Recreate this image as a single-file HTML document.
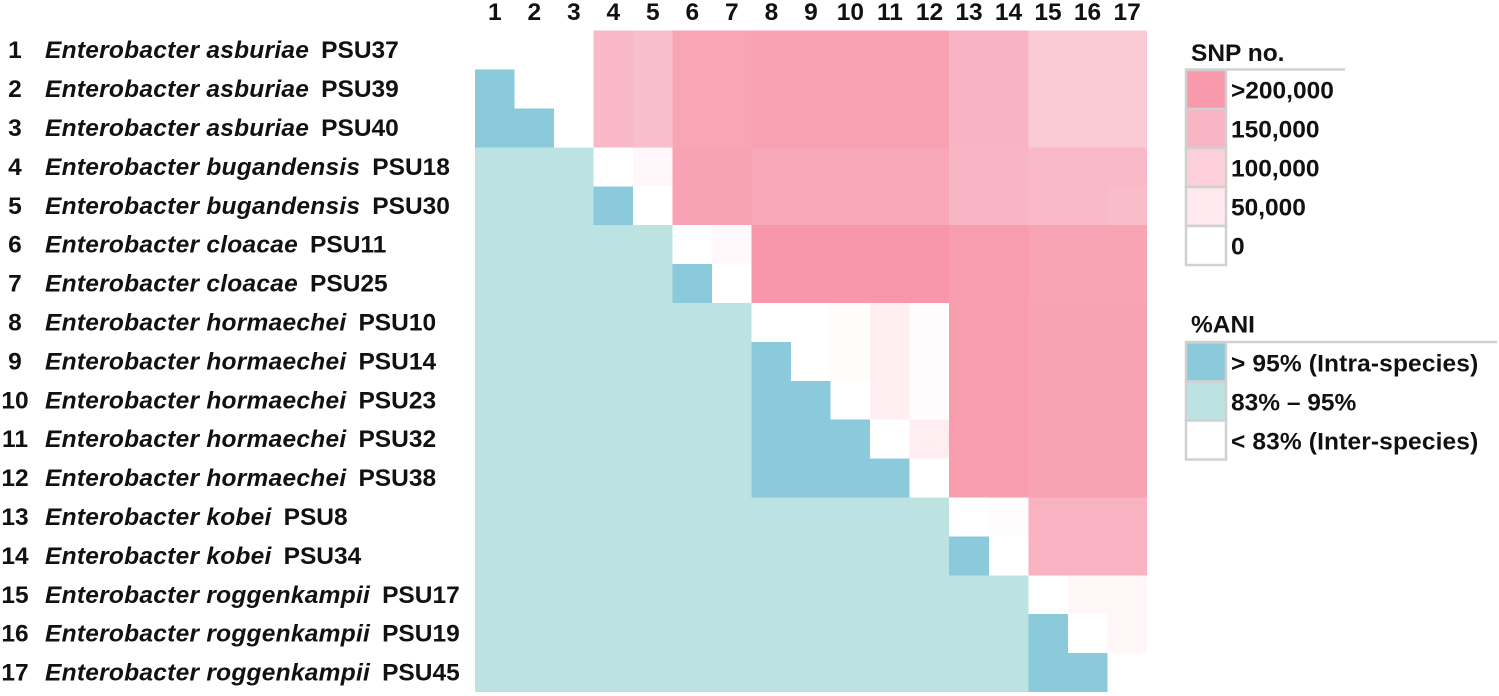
<!DOCTYPE html>
<html lang="en">
<head>
<meta charset="utf-8">
<title>SNP and ANI heatmap of Enterobacter strains</title>
<style>
  html, body { margin: 0; padding: 0; background: #fff; }
  svg { display: block; }
  text { font-family: "Liberation Sans", Arial, sans-serif; font-weight: 700; font-size: 24.5px; fill: #111; }
</style>
</head>
<body>
<svg id="chart" width="1499" height="696" viewBox="0 0 1499 696" xmlns="http://www.w3.org/2000/svg">
  <g id="cells" shape-rendering="crispEdges"></g>
  <g id="col-labels"></g>
  <g id="row-labels"></g>

  <g>
    <text x="1191" y="61">SNP no.</text>
    <line x1="1185" y1="69.5" x2="1345" y2="69.5" stroke="#d0d0d0" stroke-width="2.5"/>
    <rect x="1186" y="70" width="40" height="39" fill="#f89aab" stroke="#d0d0d0" stroke-width="2.5"/>
    <rect x="1186" y="109" width="40" height="39" fill="#fab5c5" stroke="#d0d0d0" stroke-width="2.5"/>
    <rect x="1186" y="148" width="40" height="39" fill="#fccfdb" stroke="#d0d0d0" stroke-width="2.5"/>
    <rect x="1186" y="187" width="40" height="39" fill="#ffe9ee" stroke="#d0d0d0" stroke-width="2.5"/>
    <rect x="1186" y="226" width="40" height="39" fill="#ffffff" stroke="#d0d0d0" stroke-width="2.5"/>
    <text x="1231" y="98.5">&gt;200,000</text>
    <text x="1231" y="137.5">150,000</text>
    <text x="1231" y="176.5">100,000</text>
    <text x="1231" y="215.5">50,000</text>
    <text x="1231" y="254.5">0</text>
  </g>

  <g>
    <text x="1191" y="332.5">%ANI</text>
    <line x1="1185" y1="342" x2="1497" y2="342" stroke="#d0d0d0" stroke-width="2.5"/>
    <rect x="1186" y="342.5" width="40" height="39" fill="#8bcadb" stroke="#d0d0d0" stroke-width="2.5"/>
    <rect x="1186" y="381.5" width="40" height="39" fill="#bde2e2" stroke="#d0d0d0" stroke-width="2.5"/>
    <rect x="1186" y="420.5" width="40" height="39" fill="#ffffff" stroke="#d0d0d0" stroke-width="2.5"/>
    <text x="1231" y="371.5" letter-spacing="0.14">&gt; 95% (Intra-species)</text>
    <text x="1231" y="410.5">83% – 95%</text>
    <text x="1231" y="449.5" letter-spacing="0.14">&lt; 83% (Inter-species)</text>
  </g>
</svg>

<script>
const columnLabels = ["1","2","3","4","5","6","7","8","9","10","11","12","13","14","15","16","17"];
const species = ["asburiae","asburiae","asburiae","bugandensis","bugandensis","cloacae","cloacae","hormaechei","hormaechei","hormaechei","hormaechei","hormaechei","kobei","kobei","roggenkampii","roggenkampii","roggenkampii"];
const strains = ["PSU37","PSU39","PSU40","PSU18","PSU30","PSU11","PSU25","PSU10","PSU14","PSU23","PSU32","PSU38","PSU8","PSU34","PSU17","PSU19","PSU45"];

/* SNP counts (upper triangle) */
const snpRow1  = [0,0,0,142000,130000,182000,182000,190000,190000,190000,190000,190000,150000,150000,105000,105000,105000];
const snpRow2  = [0,0,0,142000,130000,182000,182000,190000,190000,190000,190000,190000,150000,150000,105000,105000,105000];
const snpRow3  = [0,0,0,142000,130000,182000,182000,190000,190000,190000,190000,190000,150000,150000,105000,105000,105000];
const snpRow4  = [0,0,0,0,20000,186000,186000,175000,175000,175000,175000,175000,147000,147000,140000,140000,140000];
const snpRow5  = [0,0,0,0,0,186000,186000,175000,175000,175000,175000,175000,147000,147000,140000,140000,133000];
const snpRow6  = [0,0,0,0,0,0,14000,212000,212000,212000,212000,212000,197000,197000,183000,183000,183000];
const snpRow7  = [0,0,0,0,0,0,0,212000,212000,212000,212000,212000,197000,197000,183000,183000,183000];
const snpRow8  = [0,0,0,0,0,0,0,0,0,8000,40000,6000,198000,198000,185000,185000,185000];
const snpRow9  = [0,0,0,0,0,0,0,0,0,8000,40000,6000,198000,198000,185000,185000,185000];
const snpRow10 = [0,0,0,0,0,0,0,0,0,0,40000,6000,198000,198000,185000,185000,185000];
const snpRow11 = [0,0,0,0,0,0,0,0,0,0,0,44000,198000,198000,185000,185000,185000];
const snpRow12 = [0,0,0,0,0,0,0,0,0,0,0,0,198000,198000,185000,185000,185000];
const snpRow13 = [0,0,0,0,0,0,0,0,0,0,0,0,0,6000,155000,155000,155000];
const snpRow14 = [0,0,0,0,0,0,0,0,0,0,0,0,0,0,155000,155000,155000];
const snpRow15 = [0,0,0,0,0,0,0,0,0,0,0,0,0,0,0,22000,22000];
const snpRow16 = [0,0,0,0,0,0,0,0,0,0,0,0,0,0,0,0,22000];
const snpRow17 = [0,0,0,0,0,0,0,0,0,0,0,0,0,0,0,0,0];
const snpValues = [snpRow1,snpRow2,snpRow3,snpRow4,snpRow5,snpRow6,snpRow7,snpRow8,snpRow9,snpRow10,snpRow11,snpRow12,snpRow13,snpRow14,snpRow15,snpRow16,snpRow17];

/* %ANI (lower triangle, estimated within each legend band) */
const aniRow1  = [];
const aniRow2  = [99];
const aniRow3  = [99,99];
const aniRow4  = [88,88,88];
const aniRow5  = [88,88,88,99];
const aniRow6  = [88,88,88,88,88];
const aniRow7  = [88,88,88,88,88,99];
const aniRow8  = [88,88,88,88,88,88,88];
const aniRow9  = [88,88,88,88,88,88,88,99];
const aniRow10 = [88,88,88,88,88,88,88,99,99];
const aniRow11 = [88,88,88,88,88,88,88,99,99,99];
const aniRow12 = [88,88,88,88,88,88,88,99,99,99,99];
const aniRow13 = [88,88,88,88,88,88,88,88,88,88,88,88];
const aniRow14 = [88,88,88,88,88,88,88,88,88,88,88,88,99];
const aniRow15 = [88,88,88,88,88,88,88,88,88,88,88,88,88,88];
const aniRow16 = [88,88,88,88,88,88,88,88,88,88,88,88,88,88,99];
const aniRow17 = [88,88,88,88,88,88,88,88,88,88,88,88,88,88,99,99];
const aniValues = [aniRow1,aniRow2,aniRow3,aniRow4,aniRow5,aniRow6,aniRow7,aniRow8,aniRow9,aniRow10,aniRow11,aniRow12,aniRow13,aniRow14,aniRow15,aniRow16,aniRow17];

const SVG_NS = "http://www.w3.org/2000/svg";
const gridLeft = 475, gridTop = 30.7, cellW = 39.52, cellH = 38.9;
const xAxis = i => gridLeft + i * cellW;
const yAxis = i => gridTop + i * cellH;

const scaleStops = [
  [0, [255,255,255]],
  [50000, [255,234,239]],
  [100000, [251,205,215]],
  [150000, [248,180,196]],
  [200000, [248,156,173]],
  [220000, [247,148,166]]
];
function snpColor(v) {
  if (v <= scaleStops[0][0]) return "rgb(255,255,255)";
  for (let k = 1; k < scaleStops.length; k++) {
    if (v <= scaleStops[k][0]) {
      const a = scaleStops[k - 1], b = scaleStops[k];
      const t = (v - a[0]) / (b[0] - a[0]);
      const c = a[1].map((q, n) => Math.round(q + (b[1][n] - q) * t));
      return "rgb(" + c.join(",") + ")";
    }
  }
  return "rgb(247,148,166)";
}
function aniColor(v) {
  if (v > 95) return "#8bcadb";
  if (v >= 83) return "#bde2e2";
  return "#ffffff";
}

const cellsG = document.getElementById("cells");
function addCell(r, c, fill, name) {
  const rect = document.createElementNS(SVG_NS, "rect");
  rect.setAttribute("x", xAxis(c));
  rect.setAttribute("y", yAxis(r));
  rect.setAttribute("width", cellW);
  rect.setAttribute("height", cellH);
  rect.setAttribute("fill", fill);
  
  
  cellsG.appendChild(rect);
}
snpValues.forEach((row, r) => {
  row.forEach((v, c) => {
    if (c > r) addCell(r, c, snpColor(v), "snp-cell-" + (r + 1) + "-" + (c + 1));
  });
});
aniValues.forEach((row, r) => {
  row.forEach((v, c) => {
    if (c < r) addCell(r, c, aniColor(v), "ani-cell-" + (r + 1) + "-" + (c + 1));
  });
});

const colG = document.getElementById("col-labels");
columnLabels.forEach((label, i) => {
  const t = document.createElementNS(SVG_NS, "text");
  t.setAttribute("x", xAxis(i) + cellW / 2);
  t.setAttribute("y", 20);
  t.setAttribute("text-anchor", "middle");
  
  
  t.textContent = label;
  colG.appendChild(t);
});

const rowG = document.getElementById("row-labels");
strains.forEach((strain, i) => {
  const baseline = yAxis(i) + cellH / 2 + 8;
  const num = document.createElementNS(SVG_NS, "text");
  num.setAttribute("x", 15);
  num.setAttribute("y", baseline);
  num.setAttribute("text-anchor", "middle");
  
  
  num.textContent = columnLabels[i];
  rowG.appendChild(num);

  const label = document.createElementNS(SVG_NS, "text");
  label.setAttribute("x", 45);
  label.setAttribute("y", baseline);
  
  
  const sp = document.createElementNS(SVG_NS, "tspan");
  sp.setAttribute("font-style", "italic");
  sp.setAttribute("letter-spacing", "0.26");
  sp.textContent = "Enterobacter " + species[i];
  const st = document.createElementNS(SVG_NS, "tspan");
  st.setAttribute("dx", 12);
  st.textContent = strain;
  label.appendChild(sp);
  label.appendChild(st);
  rowG.appendChild(label);
});
</script>
</body>
</html>
